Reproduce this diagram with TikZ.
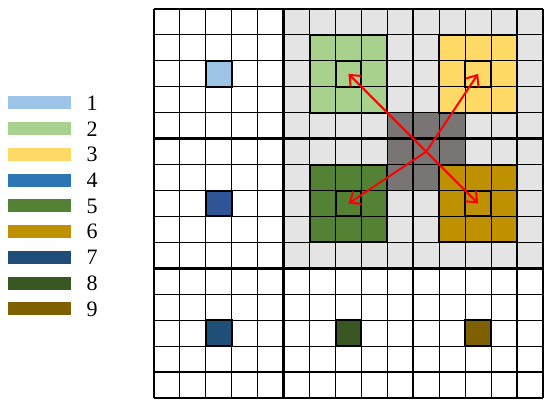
\documentclass[tikz,border=0pt]{standalone}
\usepackage{fontspec}
\setmainfont{Liberation Serif}
\usetikzlibrary{arrows.meta}
\definecolor{lblue}{HTML}{9DC3E6}
\definecolor{lgreen}{HTML}{A9D18E}
\definecolor{lyellow}{HTML}{FFD966}
\definecolor{mblue}{HTML}{2E75B6}
\definecolor{cblue}{HTML}{2F5597}
\definecolor{mgreen}{HTML}{548235}
\definecolor{mgold}{HTML}{BF9000}
\definecolor{dblue}{HTML}{1F4E79}
\definecolor{dgreen}{HTML}{385723}
\definecolor{dbrown}{HTML}{7F6000}
\definecolor{lgrey}{HTML}{E4E4E4}
\definecolor{dgrey}{HTML}{7A7575}
\tikzset{
    gridline/.style={line width=1.1pt},
    blockline/.style={line width=2.4pt},
    cellline/.style={line width=2pt},
    legendbar/.style={minimum width=63pt,minimum height=13pt,inner sep=0pt},
    % four arrows leave the centre of the dark square
    linkarrow/.style={red,line width=2pt,
                      -{Straight Barb[length=9pt,width=15pt,line width=2pt]}}
}

\begin{document}
\begin{tikzpicture}[x=25.93pt,y=-25.93pt]

  \useasboundingbox (-5.939,-0.347) rectangle (15.272,15.349);

  % shaded search area
  \fill[lgrey] (5,0) rectangle (15,10);
  \fill[dgrey] (9,4) rectangle (12,7);

  \fill[lgreen]  (6,1) rectangle ( 9,4);
  \fill[lyellow] (11,1) rectangle (14,4);
  \fill[mgreen]  (6,6) rectangle ( 9,9);
  \fill[mgold]   (11,6) rectangle (14,9);

  \fill[lblue]  (2,2)  rectangle +(1,1);
  \fill[cblue]  (2,7)  rectangle +(1,1);
  \fill[dblue]  (2,12) rectangle +(1,1);
  \fill[dgreen] (7,12) rectangle +(1,1);
  \fill[dbrown] (12,12) rectangle +(1,1);

  \foreach \k in {1,...,14}{
    \draw[gridline] (\k,0) -- (\k,15);
    \draw[gridline] (0,\k) -- (15,\k);
  }
  \foreach \k in {0,5,10,15}{
    \draw[blockline] (\k,0) -- (\k,15);
    \draw[blockline] (0,\k) -- (15,\k);
  }

  \foreach \x/\y in {6/1,11/1,6/6,11/6}{
    \draw[cellline] (\x,\y) rectangle +(3,3);
    \draw[cellline] (\x+1,\y+1) rectangle +(1,1);
  }
  \foreach \x/\y in {2/2,2/7,2/12,7/12,12/12}
    \draw[cellline] (\x,\y) rectangle +(1,1);

  \coordinate (hub) at (10.5,5.5);
  \coordinate (tl) at (7.5,2.5);
  \coordinate (tr) at (12.5,2.5);
  \coordinate (bl) at (7.5,7.5);
  \coordinate (br) at (12.5,7.5);
  \foreach \t in {tl,tr,bl,br}
    \draw[linkarrow] (hub) -- (\t);

  % legend
  \foreach \i/\c in {1/lblue,2/lgreen,3/lyellow,4/mblue,5/mgreen,6/mgold,7/dblue,8/dgreen,9/dbrown}{
    \node[legendbar,fill=\c] (bar\i) at (-4.416,{3.625+(\i-1)*0.993}) {};
    \node[font=\fontsize{22}{26}\selectfont] (num\i) at (-2.39,{3.625+(\i-1)*0.993}) {\i};
  }

\end{tikzpicture}
\end{document}
